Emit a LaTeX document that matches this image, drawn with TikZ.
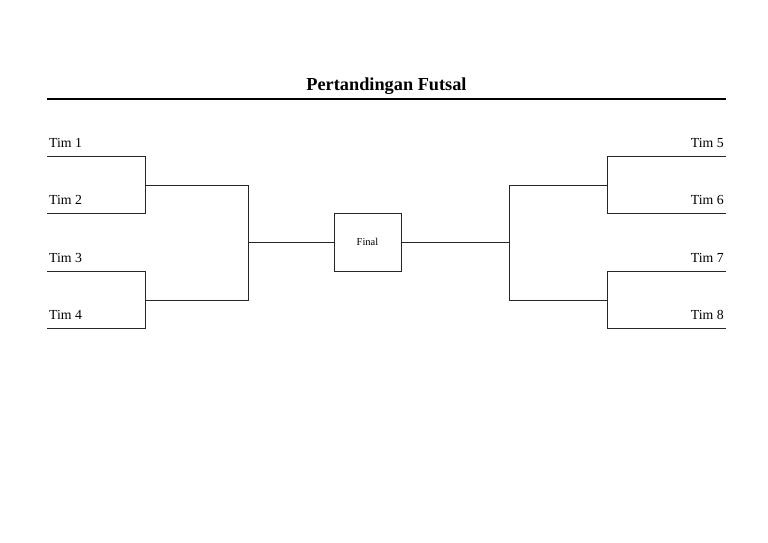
\documentclass[tikz,border=0pt]{standalone}
\usepackage{fontspec}
\setmainfont{Liberation Serif}
\begin{document}
\begin{tikzpicture}[x=1pt,y=-1pt,
  bline/.style={line width=0.9pt,draw=black!85},
  lbl/.style={font=\fontsize{13.8}{15}\selectfont,inner sep=0pt},
  finalbox/.style={draw=black!85,line width=0.9pt,minimum width=67pt,minimum height=58pt,inner sep=0pt,font=\fontsize{10.5}{12}\selectfont}]
\useasboundingbox (0,0) rectangle (768,543);
\node[font=\bfseries\fontsize{18.3}{20}\selectfont,anchor=base,inner sep=0pt] (title) at (386.5,90) {Pertandingan Futsal};
\coordinate (rl) at (47,99); \coordinate (rr) at (726,99);
\draw[line width=1.8pt] (rl) -- (rr);
% final
\node[finalbox] (final) at (367.5,242) {Final};
% left side coordinates
\coordinate (a1) at (47,156); \coordinate (b1) at (145,156);
\coordinate (a2) at (47,213); \coordinate (b2) at (145,213);
\coordinate (a3) at (47,271); \coordinate (b3) at (145,271);
\coordinate (a4) at (47,328); \coordinate (b4) at (145,328);
\coordinate (m1) at (145,185); \coordinate (n1) at (248,185);
\coordinate (m2) at (145,300); \coordinate (n2) at (248,300);
\coordinate (c) at (248,242);
\draw[bline] (a1) -- (b1) -- (b2) -- (a2);
\draw[bline] (a3) -- (b3) -- (b4) -- (a4);
\draw[bline] (m1) -- (n1) -- (n2) -- (m2);
\draw[bline] (c) -- (final.west);
% right side
\coordinate (ra1) at (726,156); \coordinate (rb1) at (607,156);
\coordinate (ra2) at (726,213); \coordinate (rb2) at (607,213);
\coordinate (ra3) at (726,271); \coordinate (rb3) at (607,271);
\coordinate (ra4) at (726,328); \coordinate (rb4) at (607,328);
\coordinate (rm1) at (607,185); \coordinate (rn1) at (509,185);
\coordinate (rm2) at (607,300); \coordinate (rn2) at (509,300);
\coordinate (rc) at (509,242);
\draw[bline] (ra1) -- (rb1) -- (rb2) -- (ra2);
\draw[bline] (ra3) -- (rb3) -- (rb4) -- (ra4);
\draw[bline] (rm1) -- (rn1) -- (rn2) -- (rm2);
\draw[bline] (final.east) -- (rc);
% labels
\node[lbl,anchor=base west] (t1) at (49,147) {Tim 1};
\node[lbl,anchor=base west] (t2) at (49,204) {Tim 2};
\node[lbl,anchor=base west] (t3) at (49,262) {Tim 3};
\node[lbl,anchor=base west] (t4) at (49,319) {Tim 4};
\node[lbl,anchor=base east] (t5) at (724,147) {Tim 5};
\node[lbl,anchor=base east] (t6) at (724,204) {Tim 6};
\node[lbl,anchor=base east] (t7) at (724,262) {Tim 7};
\node[lbl,anchor=base east] (t8) at (724,319) {Tim 8};
\end{tikzpicture}
\end{document}
